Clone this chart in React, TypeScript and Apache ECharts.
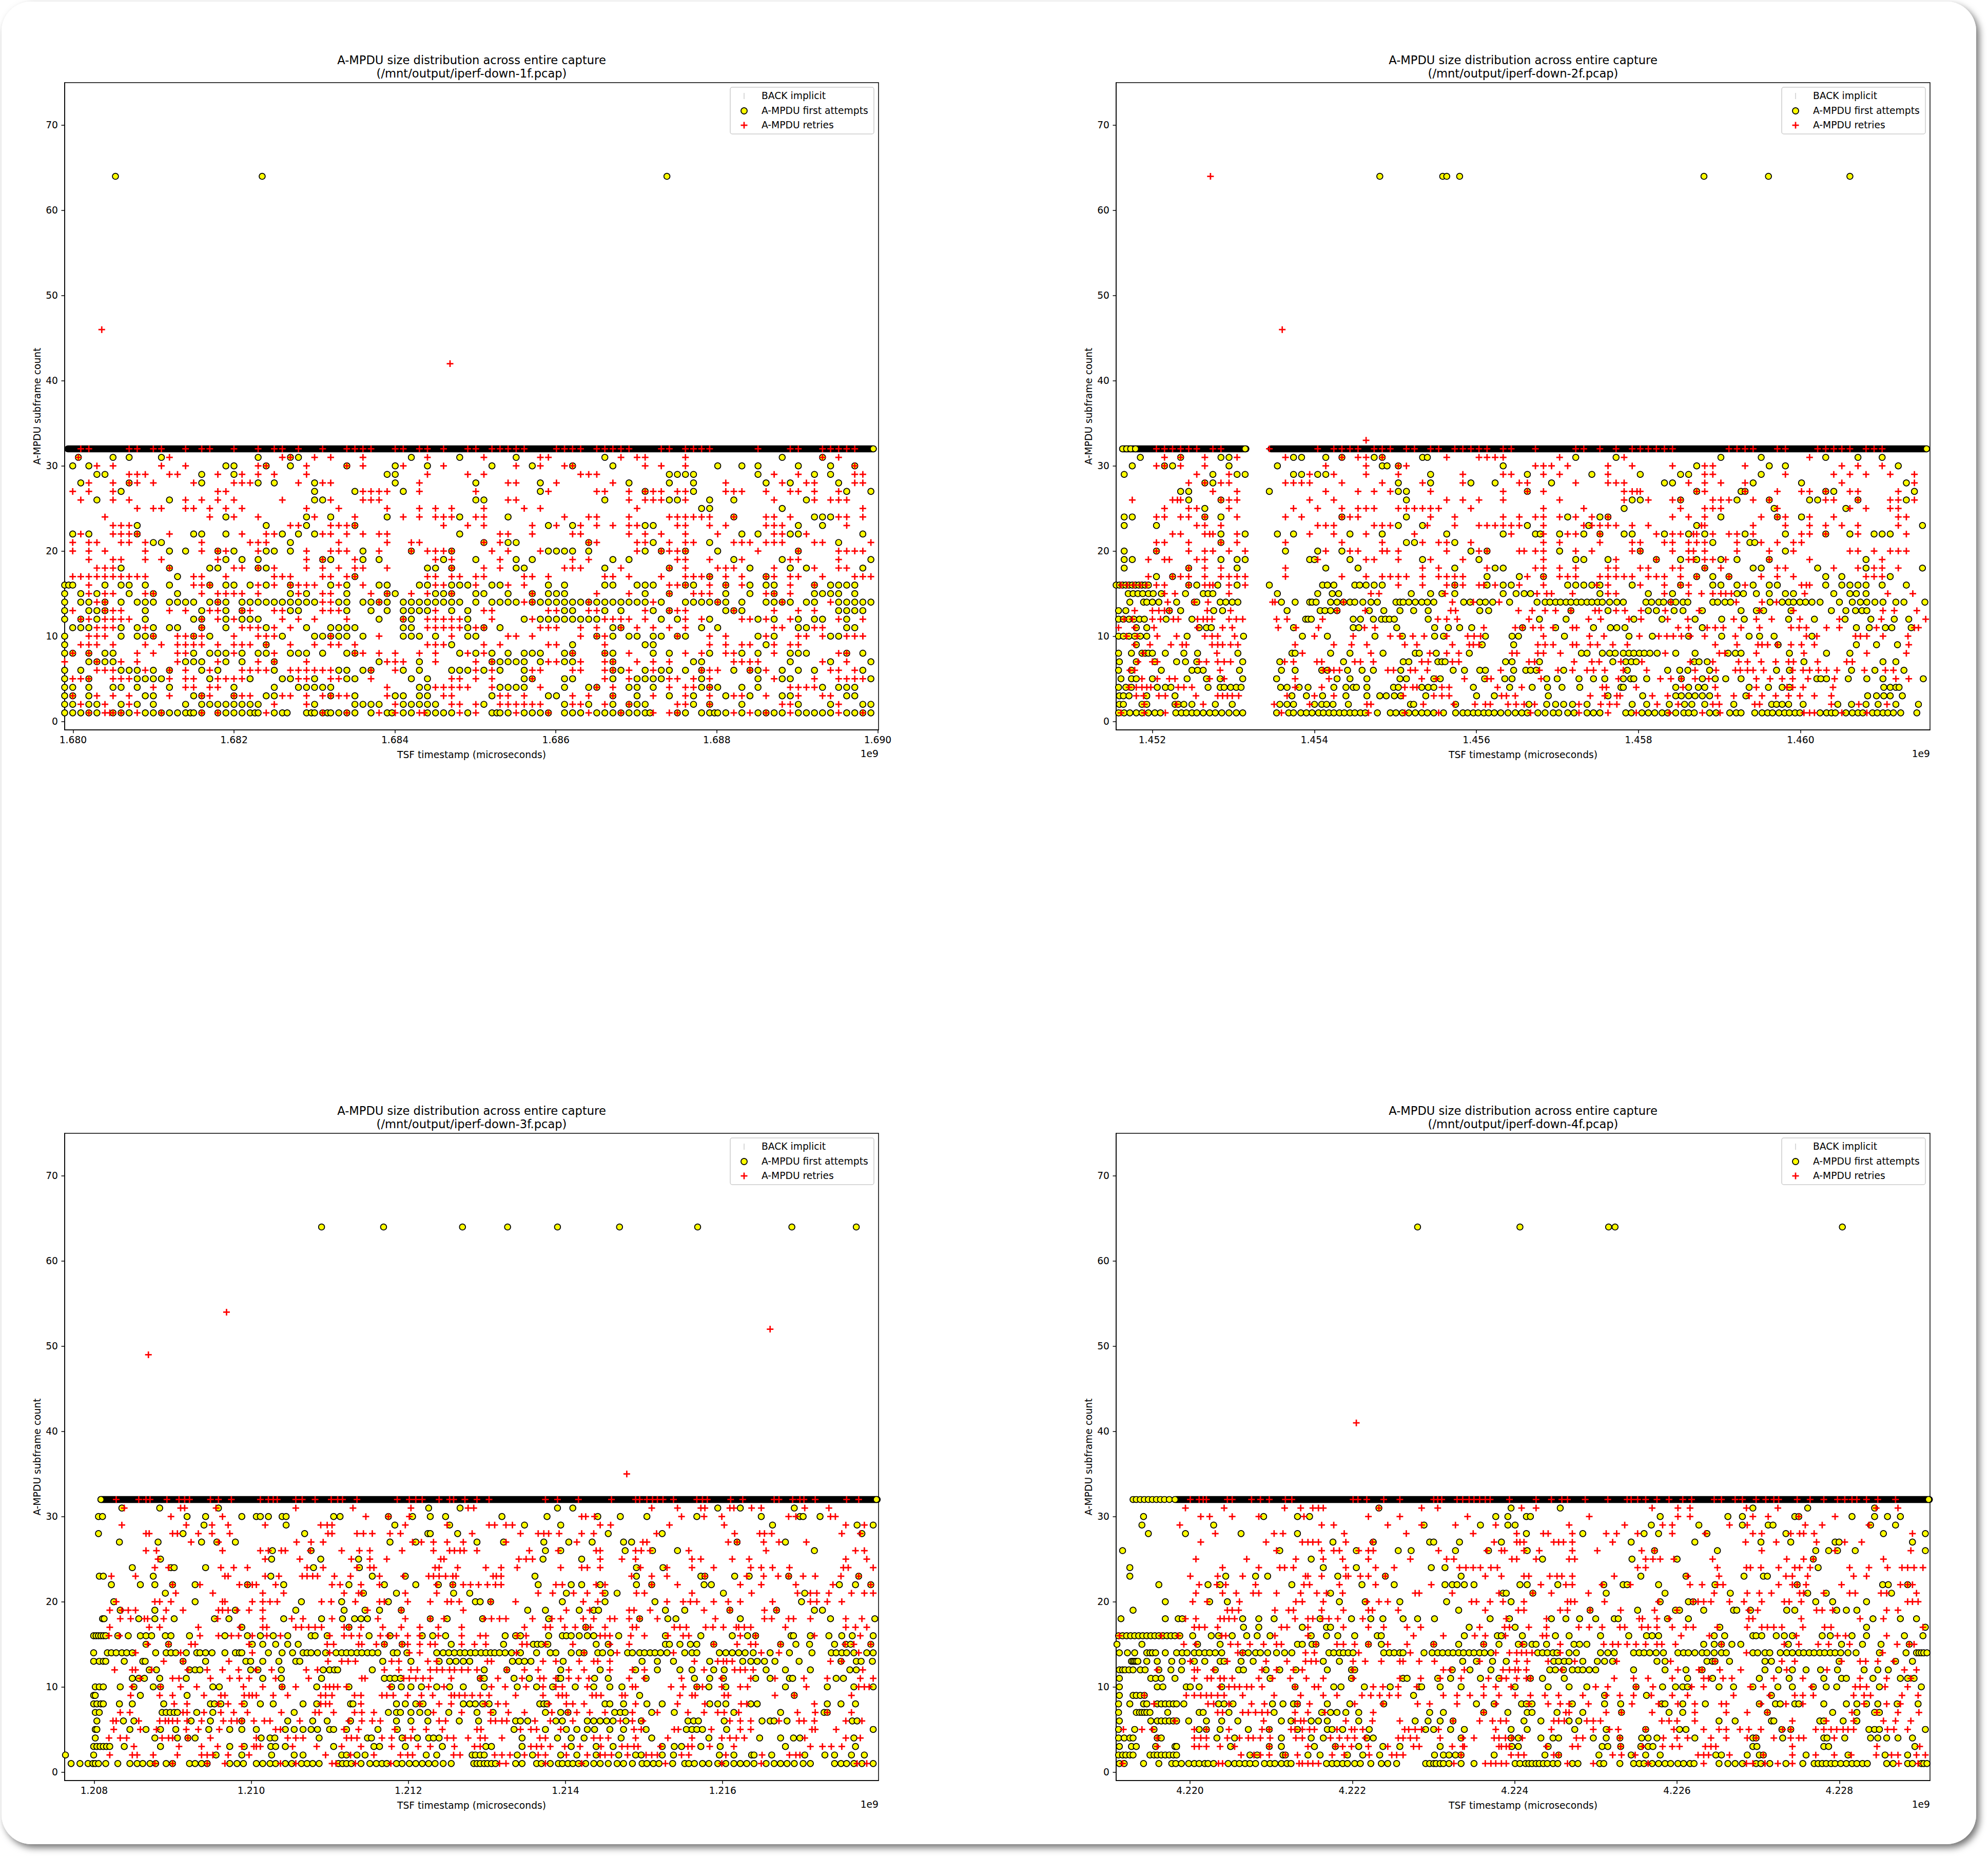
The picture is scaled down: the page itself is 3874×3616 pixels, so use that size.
import React, { useEffect, useRef } from "react";
import * as echarts from "echarts";

const W = 3874;
const H = 3616;
const FONT = "DejaVu Sans";

// ---- capture files (one per panel: TL, TR, BL, BR)
const FILES = [
  "/mnt/output/iperf-down-1f.pcap",
  "/mnt/output/iperf-down-2f.pcap",
  "/mnt/output/iperf-down-3f.pcap",
  "/mnt/output/iperf-down-4f.pcap",
];
// visible TSF window of each panel, in units of 1e6 microseconds
const X_START = [1679.895, 1451.554, 1207.625, 4219.09];
const X_END = [1690.01, 1461.597, 1217.984, 4229.117];
// seconds per reading step (positions below are read in ~1/100 of the panel width)
const STEP = [0.1002, 0.0995, 0.1025, 0.0993];
const X_TICKS = [
  [1680, 1682, 1684, 1686, 1688, 1690],
  [1452, 1454, 1456, 1458, 1460],
  [1208, 1210, 1212, 1214, 1216],
  [4220, 4222, 4224, 4226, 4228],
];
const Y_TICKS = [0, 10, 20, 30, 40, 50, 60, 70];

// ---- rows: index i -> subframe count i+1; positions
const TL_FIRST = [
  "0 1 2 3 4 6 7 8 10 11 12 13 14 15 15.6 16 17 19 20 21 22 23 23.6 24 26 27 27.6 30 30.6 31 32 32.6 33 34 35 36 38 40 40.6 42 43 45 46 47 48 50 53 53.6 54 55 57 58 59 60 62 63 64 66 67 68 69 70 71 72 72.6 76 77 79 80 80.6 81 82 84 86 87 88 89 91 92 93 94 95 97 98 99 100",
  "0 1 3 4 7 9 11 15 17 18 19 20 21 22 23 24 31 36 37 38 39 42 43 44 45 46 52 62 65 68 70 71 72 78 80 84 91 95 99 100",
  "0 1 3 10 11 16 17 21 25 26 33 36 41 42 44 45 53 60 61 68 71 75 78 82 85 89 90 97 98",
  "0 1 3 6 7 9 13 21 26 29 30 31 32 33 44 45 54 55 56 57 62 65 66 70 71 73 79 80 81 84 86 94 96 97 98",
  "0 3 9 10 11 12 18 23 27 28 31 35 36 43 45 57 58 62 63 68 71 72 73 74 79 86 89 90 100",
  "0 2 7 8 9 11 13 17 19 26 34 35 37 38 42 44 48 49 50 52 54 57 68 69 72 74 75 77 79 83 85 86 89 91 93 99",
  "3 4 5 6 15 16 17 20 22 26 39 44 53 54 55 56 57 59 62 63 68 78 79 90 95 100",
  "0 1 3 5 6 16 18 19 20 22 24 25 28 29 30 32 35 36 49 51 53 55 57 58 59 62 63 67 68 73 75 80 84 86 90 91 92 97 99",
  "0 25 48 63 72 73 87",
  "0 7 9 10 11 16 18 27 31 32 33 34 35 37 42 43 44 46 50 51 66 68 70 71 73 74 76 77 86 88 95 96",
  "1 2 3 7 9 11 13 14 17 20 25 30 33 34 35 36 42 43 50 52 54 68 69 79 81 91 92 97 98",
  "0 2 4 10 16 17 20 22 23 24 39 42 43 50 57 59 60 61 62 63 64 65 66 74 76 80 86 88 91 93 94 97",
  "0 3 4 5 10 17 20 22 28 29 35 38 40 42 43 44 45 48 50 62 63 67 69 73 75 82 83 84 96 97 98 99",
  "0 2 3 5 7 9 10 11 13 14 15 16 18 19 20 22 23 24 25 26 27 28 29 30 31 34 35 37 38 39 40 42 43 44 45 46 47 48 49 51 53 54 55 56 58 59 60 61 62 63 64 65 66 67 68 69 70 71 72 74 77 78 79 80 81 82 84 87 88 89 90 92 93 96 97 98 99 100",
  "0 2 4 8 11 14 28 30 35 40 41 46 47 48 51 52 55 58 60 61 62 72 75 82 85 88 93 94 95 96 98",
  "0 0.5 1 5 7 8 10 13 18 20 21 23 25 28 33 35 39 40 44 45 48 49 50 53 54 60 62 67 68 71 72 73 77 78 82 85 87 88 93 95 96 97 98",
  "14 36 80 87",
  "7 13 18 19 24 25 45 46 48 56 57 67 75 85 90 92 99",
  "20 22 24 32 33 37 39 47 51 56 58 68 70 83 89 100",
  "13 15 19 21 25 26 28 37 43 48 60 61 62 63 65 72 74 77 81 91",
  "11 12 28 52 55 56 65 73 80 96",
  "1 3 9 16 17 20 27 29 31 49 84 86 90 91 99",
  "9 25 30 36 60 63 72 73 91 94",
  "20 30 33 40 49 55 83 93 94 95",
  "79 80 89",
  "4 13 31 32 51 52 67 75 76 80 83 92",
  "7 31 36 42 59 72 78 97 100",
  "2 8 17 24 26 31 41 51 59 70 75 78 87 90 96",
  "4 5 17 21 40 41 75 76 77 78 86 93 95",
  "1 3 20 21 25 28 35 41 45 53 58 63 68 81 84 86 91 95 98",
  "1.7 6 8 12 24 28 29 43 49 56 67 89 94",
  "100.3",
];
const TL_RETRY = [
  "3 5 5.6 6 7 9 12 17 19 25 32 35 39 41 44 44.6 49 51 56 60 65 69 73 75 76 83 85 87 90 96 99",
  "2 5 8 26 30 41 48 49 51 54 55 56 57 58 59 63 64 67 70 76 77 80 89 90 96",
  "1 4 6 8 13 17 18 21 22 23 27 28 30 32 33 34 35 40 47 48 54 55 57 63 65 68 73 77 80 83 84 87 91 94 95",
  "11 15 16 18 19 40 46 47 48 49 50 53 59 66 68 75 77 78 80 90 91 92 93",
  "1 2 3 6 7 8 13 15 16 19 20 21 22 29 30 33 34 38 48 49 51 53 58 67 70 75 76 78 80 88 93 96 97 98 99",
  "4 5 6 10 13 15 18 22 23 24 25 28 29 30 31 32 33 38 41 51 53 58 59 63 64 67 68 70 73 79 80 81 85 87 95 96 98",
  "0 4 7 9 14 19 24 26 30 40 41 42 46 51 53 60 61 64 67 68 71 73 75 83 84 85 86 94 97",
  "1 3 9 11 14 15 21 26 36 37 39 41 44 46 50 52 63 67 70 77 79 82 83 88 96 97",
  "2 3 4 6 10 12 14 15 16 17 19 21 22 23 25 28 31 33 34 36 45 46 47 52 54 60 61 67 80 82 84 85 88 90 91",
  "3 4 5 11 14 15 16 17 21 24 25 26 33 39 48 55 56 58 64 66 67 76 80 82 87 91 92 94 97 98 99",
  "4 5 6 10 17 22 23 24 26 28 45 46 47 48 49 51 52 59 60 61 64 66 69 71 73 75 77 88 89 93 94",
  "2 3 5 6 7 8 17 19 21 27 29 31 35 42 45 46 47 48 49 53 58 67 68 69 70 72 77 79 84 85 87 90 96 99",
  "1 5 6 7 13 15 18 19 22 23 26 27 32 33 34 46 52 53 60 61 65 66 72 75 76 77 83 88 91 93",
  "4 5 19 32 33 39 57 58 65 73 81 89 95",
  "3 5 6 10 11 17 19 20 21 22 24 29 32 33 38 40 43 45 48 58 66 70 75 78 79 80 87 88 90",
  "3 16 17 18 24 26 28 29 30 31 34 37 46 47 51 55 57 75 76 77 80 82 84 90 93",
  "1 2 3 4 5 6 7 8 9 10 16 17 20 26 27 28 32 33 35 36 45 46 48 49 51 52 57 58 60 67 68 70 74 77 78 79 80 82 84 87 88 90 91 94 98 99 100",
  "4 5 6 13 21 22 24 26 30 32 34 36 37 40 48 52 54 62 63 64 69 75 77 81 82 83 88 93 96 97",
  "3 6 7 10 12 19 30 32 36 46 48 54 63 65 76 77 80 84 90 91 96",
  "1 3 5 10 17 19 20 24 30 33 34 35 39 43 45 46 47 48 53 55 59 71 74 75 76 77 86 91 96 97 98 99",
  "1 3 4 7 8 10 17 23 24 25 34 40 43 44 52 54 65 66 71 72 75 77 78 83 84 85 87 88 89 93 94 100",
  "2 6 7 8 9 13 22 25 26 32 33 35 37 39 40 54 55 58 63 64 70 72 74 77 81 88 89 92",
  "6 7 8 28 29 33 34 35 36 47 50 52 58 61 64 66 68 70 71 76 77 80 82 87 88 89 97",
  "5 18 21 24 31 36 42 44 46 47 48 51 52 62 65 66 70 75 76 77 78 79 80 83 87 88 90 96 97 99",
  "9 11 12 15 16 18 20 22 30 34 40 44 46 48 52 57 59 71 99",
  "2 6 8 15 17 19 21 27 33 37 38 39 55 56 70 72 73 74 77 88 93 95 96 97",
  "1 3 6 19 20 37 38 39 40 44 51 60 66 67 70 72 73 74 76 77 82 83 84 87 90 91 93 96",
  "3 6 8 9 11 16 21 22 23 29 32 33 44 55 56 61 68 82 89 92 93 98 99",
  "8 9 10 13 14 19 22 24 26 30 45 50 52 64 65 66 88 91 98 99",
  "4 6 12 15 24 25 30 35 37 42 47 56 59 62 63 72 74 77 98",
  "1.7 13 27 28 31 33 37 45 52 59 60 69 71 72 77 94 96",
  "2 3 8 9 11 12 15 17 18 21 24 26 27 29 32 35 36 37 38 41 42 44 45 47 50 51 53 54 55 56 57 61 62 63 64 66 67 68 69 70 74 75 77 78 79 80 86 90 91 94 95 96 97 98",
];
const TL_FIRST_HIGH = [[6.3, 64], [24.5, 64], [74.7, 64]];
const TL_RETRY_HIGH = [[4.6, 46], [47.8, 42]];
const TL_BAND = [[0.4, 100.3]];

const TR_FIRST = [
  "0.3 1 1.7 2.5 3.2 4 4.8 5.5 7.4 8.1 8.7 9.4 10 10.8 11.6 12.3 13.1 14 14.9 15.7 19.9 21.4 22 22.9 23.6 24.3 25.1 25.7 26.4 27 27.7 28.3 29 29.6 30.3 30.9 32.4 34 34.7 35.5 36.3 37.1 37.9 38.6 39.4 40.6 42.1 43 43.6 44.3 44.9 45.6 46.2 46.9 47.7 48.6 49.5 50.3 51 52.3 53.2 54.2 54.9 56 56.8 58.4 59.2 60 63.2 63.9 65.2 66 66.8 67.7 68.4 69.4 70.4 71 71.7 73.6 74.4 76.1 76.9 77.5 79.2 80.1 80.8 81.4 82.2 82.9 83.5 84.2 84.8 87.3 88.1 88.7 89.2 90.5 91.3 92 92.6 93.8 94.4 95.1 95.7 96.4 97.3 99.3",
  "0.4 0.9 3.2 3.8 7.3 7.7 8.4 9.4 12.3 14.4 20.3 21.2 22 24.6 25.5 26.1 26.9 28.8 36.5 36.9 42.1 51.2 53.4 54.5 55.5 56.6 58.4 64 65.8 68.6 70.5 71.4 73 76.6 81.3 81.9 82.6 83.4 85.2 89.5 91.2 93 94.5 96.7 99.5",
  "0.4 0.9 1.6 3.8 7.3 21.8 23.6 25.6 28.5 31.1 32.7 33.5 34.5 35.3 38.4 44.7 46.9 53.6 61 65.3 69.4 70.1 71 71.8 72.7 73.6 78.1 93.2 94.3 95.2 96 97.5",
  "0.3 1.2 1.9 5.1 6.1 6.8 11.4 12.9 13.4 14.2 14.9 15.5 20.4 21.2 22.7 23.8 27 28.5 29.4 29.8 31.1 34.4 35 37.9 38.7 39.4 44.3 48.8 51.6 53.5 55.3 57.5 62.6 62.9 69.4 71 72.2 73 78.5 80.9 82.6 83.5 95.2 96 96.7 97.1",
  "0.6 1.9 2.5 4.5 8.8 11.2 12.9 15.7 19.9 27.4 29 31.1 35.2 36 39.4 40.2 45.7 48.2 49.1 53.4 54.7 57.4 59.2 60.6 62.9 63.8 64.2 65.8 70.1 72.7 74.3 75.6 77.5 86.9 87.4 88.1 90.8 93.1 95.1 100.1",
  "0.3 1.9 5.6 9.4 10.1 10.8 15.3 20.5 22.2 25.5 26.2 28.7 30.5 31.9 35.3 41.8 43.2 45.1 45.8 49.3 50.8 51.4 52.1 55.5 63.4 68.4 69.9 70.9 73.6 81.9 83.5 91.2 94.1 97.7",
  "0.4 2.5 4.8 7.5 8.6 10 15.7 20.3 28.2 35.6 36.3 39.9 40.4 40.8 48.3 49.1 52.5 61.6 63.2 63.9 64.5 71.7 72.3 73.3 85.3 95.1 96.7",
  "0.3 1.9 3.2 3.6 4 4.5 6.1 8.4 10.1 15.1 21.8 22.2 26.6 29 33.1 37.1 37.6 39.7 43.8 57.7 58.4 60.3 61.2 61.9 62.9 63.6 64.2 64.9 65.5 66.2 67.1 69.4 71.8 75.9 76.8 77.5 83.5 88.1 91",
  "2.5 45.4 49.3 82.1 91.8 94.3 96.9",
  "0.3 0.9 1.6 2.3 3 3.8 8.8 15.8 23.1 26.2 32.1 35.5 39.5 40.6 45.8 49.1 49.9 55.6 63.6 66.5 71 75.1 78.5 79.8 81.6 86.3",
  "2.5 3.8 10.3 11.2 11.8 22 29.4 30.1 34.8 39.5 41.2 42.6 44.1 50.4 54.5 59.2 61.3 62.1 63.1 72.7 91.8 93.4 95.4 96.2 98.6",
  "0.3 0.9 1.6 2.2 2.9 3.5 6.2 9.4 23.5 23.8 24.2 29.4 30.3 31.9 32.9 33.4 33.9 34.5 38.7 52.5 55.8 64.2 67.7 71.8 75.1 77.9 83.4 86.6 90.4 93.6 96.5 98.3",
  "0.3 1.2 6.6 8 12.1 13.2 21.2 25.3 25.9 26.6 27.4 31.4 33.2 35.2 36.9 38.7 45.1 46.2 56.4 61 66 67 69.2 70.3 72.7 77.5 79.4 80.3 83.7 88.7 90.5 91.7 92.5 93.1",
  "1.7 3.4 3.8 4.5 5.3 7.5 9.7 10 12.9 13.6 14.4 15.1 20.5 22.2 24 24.3 24.8 26.6 27.4 28.2 29 29.6 30.6 31.6 32.4 34.7 35.2 35.6 36.3 37.1 37.9 38.6 39.4 43.1 43.9 45.1 45.8 46.7 48.8 52.2 53.2 53.8 54.5 55.1 55.8 56.4 57.1 57.7 58.4 59 59.7 60.3 61.2 62.1 62.9 65.7 66.4 67.3 67.9 68.8 69.4 70.3 70.9 74 74.6 75.5 76.2 81.1 82.6 83.4 84 84.8 85.5 86.3 87.3 89.7 91.3 92.3 93.1 94.1 95.1 96.7 97.7 100.3",
  "1.5 2.1 2.7 3.3 4 4.6 5.6 8.6 10.8 11.4 12 20 25 26.8 27.6 36.6 39 40.4 42 48 49.6 50.6 51.4 60 66 69 77 77.8 79.4 81 83 84 89 91 91.8 93",
  "0 0.4 0.8 1.2 1.6 2 2.4 2.8 3.2 3.6 4 9 10 12.6 15 19 25.6 26.2 27 29.6 30.2 31 32 33 42 46 48 49 56 57 58 59 60 64 70 74 75 77 79 81 82 88 90 91 92 93 95 98",
  "5 7 46 50 53 72 74 76 88 90 96",
  "1 9 15 26 30 42 47 48 73 79 80 87 93 100",
  "1 2 13 15 16 24 24.6 29 38 45 57 58 61 67 70 72 75 77 81 93",
  "1 5 21 25 28 44 46 55 65 83",
  "13 36 37 42 74 78.6 79.2",
  "13 16 20 22 29 33 41 48 52 52.6 55 58 60 63 64 68 71 73 78 83 88 91 94 95 96",
  "1 5 35 38 51 58.6 72 100",
  "1 2 11 13 28 36 56 60 61 75 82 85",
  "11 63 81.6 90.5",
  "9 13 36 64 65 70 77 81 86 87 92 98",
  "8 9 19 35 36 51 72 77.5 78 88 89 99",
  "11 12 35 39 44 47 54 68 69 79 85 98",
  "1 12 15 16 22 23 25 26 39 51 59 65 70 71 80",
  "2 6 7 14 20 33 33.6 35 48 72 81 83 97",
  "3 8 13 14 22 23 26 28 32 33 38 38.6 57 62 75 80 88 92 95",
  "0.8 1.3 1.8 2.4 16 100.5",
];
const TR_RETRY = [
  "0.6 3.5 6.1 20.5 31.3 35.8 40 51.4 57.4 61 64.5 68.6 72.7 74.9 85.3 86 86.6 90 93.1",
  "3.5 7.5 10.8 19.6 24 31.1 31.6 38.1 41.9 44.5 45.8 46.4 48.6 49.6 50.6 51.9 57.4 60.1 61.2 62.1 67.1 69.7 74 74.8 79.2 79.8 88.7 92.1 95.6",
  "2.5 3.4 5.3 6.1 9.9 12.6 13.2 13.8 14.4 15.2 21.2 24.6 27 35.6 39.4 40.4 41.3 47.8 48.4 49.5 58.8 60.6 62.1 62.5 66.5 68.4 74.6 76.6 78.5 80.1 81.8 83.4 84.8 86.6 88.7",
  "1.6 2.5 3.2 3.8 4.3 7.7 8.4 9.4 22.2 25.5 35.8 36.8 37.3 40.4 41.3 47.3 50.3 60.3 60.8 64.5 70.3 74.3 79.4 83.2 83.9 85.2 88.9",
  "3.2 5.1 6.6 7.3 11.6 13.4 22.2 26.4 37.9 39.7 43.2 46 46.5 52.7 62.3 67.5 68.8 70.1 71.8 73.5 79.4 81.1 82.6 83.9 85.8 89.1 96.7 98.3",
  "1.7 2.3 12.9 25.7 26.4 27 27.7 33.7 34.4 36.5 37.1 38.6 47.7 52.5 54.8 56.6 58.4 59.2 60.6 62.9 65.8 71.8 74.4 76.8 77.4 78.3 79 80.3 83.9 85.2 86 87.1 88.1 89.4 92.8 95.4 96.4",
  "2.7 4.5 5.1 10.3 11.2 12.6 13.4 14.2 20.9 22 24.9 25.5 29.6 30.3 31.9 37.9 38.7 41.7 42.5 51.2 51.9 56.8 59 59.9 62.6 65.2 71.2 74 77.2 78.3 80 81.8 83.4 84 87 90.6 91.3",
  "3.4 12.5 23.1 31.6 38.9 41 42.5 49.1 49.7 52.3 53 55.1 68.1 74.8 75.5 79.4 85.3 93.1 98",
  "2.3 4.2 6.8 8.2 8.7 11.9 12.6 13.2 14.2 15.1 22.2 27 29.2 31.1 35.8 37.3 41.7 43.8 44.3 45 52.3 53.2 54.2 56.6 57.1 58.8 59.7 61.6 63.4 74.3 77 79.6 80.1 80.8 82 83.7 85 86.6 98.3",
  "1.3 2.6 5.1 7.5 11 11.9 12.6 14.7 24.6 29.4 34 35.2 36.8 38.2 41 43.6 44.4 45.2 53 58.7 60.5 64.9 67.3 68.3 69.1 70.1 71.2 73 76.8 85.6 86.9 91.7 92.3 93.1 95.1 98.2",
  "0.3 2.3 4.7 10.1 13.2 14.4 20.1 22.3 25.1 30.8 32.1 45.6 49.5 50.4 51.7 52.7 54.2 56.6 57.1 69.7 71 73.3 74.3 75.3 77.5 79.8 83.7 84.7 85.6 88.1 89.7 94.3 99 99.5",
  "1 2 4.5 5.5 7.1 7.7 10.1 10.8 11.3 11.9 14 14.9 15.7 19.9 21.2 25.6 39.9 41 42.3 51.2 58.6 60.1 63.6 65.1 68.4 70.9 76.6 79.4 81.3 84.8 89.7 94.9 100.4",
  "2.3 4.5 5.3 6 6.6 11.3 14.2 27.4 30.9 41.5 42.1 49.9 51.6 53.2 54.5 56.4 59.4 59.9 62 63.1 65.1 68.1 72.3 79.8 84 95.1 96.5 99.3",
  "6.4 9.7 11.4 19.4 19.7 28.2 41.7 44.3 47.5 68.8 76.9 80.1 81.9",
  "6 7.3 14 31.6 32.6 40.8 52.2 53.4 54 56.6 61 62 68 71 72.6 74 75 75.6 76.3 85.4 95.7 98.8",
  "0.6 1.4 2.2 3 3.8 5 6 9 11 11.6 12 14 16 35 38 41 42 43 45 45.6 47 50 53 59.6 61 65 68 70 71 78 85 85.6 86",
  "4 7 8 9 11 13 14 15 16 21 28 31 33 34 35 36 38 40 41 42 43 51 53 55 56 57 60 61 62 63 64 66 67 68 70 72 76 80 82 84 93 94 95",
  "9 11 13 21 38 40 46 52 53 55 57 61 62 65 66 69 70 73 75 82 83 89 92 94 95 97",
  "4 6 6.6 10 11 25 31 32 35 39 43 53 62 67 71 71.6 73 74 75.6 81 86 95",
  "5 9 11 12 14 16 26 29 30 33 33.6 35 41 45 46 50 50.6 52 53 57 59 64 65 69 71 71.6 73 77 81 84 91 92 94 96 97 98",
  "5 6 9 13 15 21 28 33 38 40 41 44 53 55 60 64 65 68 69 71 72 73 77 80 82 84 85",
  "7 8 11 11.6 12 15 24 27 31 37 49 53 56 57 60 67 69 70 71.6 72 74 76 77 79 85 86 88 92 98",
  "10 11 13 25 26 27 32 33 34 38.6 42 45 46 47 48 49 50 53 58 59 60 61 62 64 66 72.6 73 79 83 86 88 90 92 97",
  "5 6 8 9 11 15 21 23 28 29 30 39 42 48 50 52 53 55 57 59 61 69 71 73 80 82 83 86 89 97 98",
  "6 9 10 14 22 25 28 30 31 32 35 36 37 38 39 40 44 53 58 70 73 74 75 82 91 93 96 97",
  "2 7 7.6 8 13 14 15 24 27 41 43 45 48 55 63 66 69 70 74 75 76 79 81 88 89 92 96 97 99",
  "12 15 26 30 32 34 39 48 51 53 63 64 64.6 65 72 73 78 82 85 86 88 91 92 97",
  "9 11 13 14 21 22 23 24 28 33 38 43 50 51 57 61 62 63 71 73 75 78 90 99",
  "10 14 24 27 31 35 43 48 49 53 55 61 73 74 83 89 91 93 96 99",
  "5 6 8 11 26 31 35 36 52 53 54 56 61 64 69 73 74 78 90 92 95",
  "6 8 11 15 21 28 30 31 33 41 45 46 47 48 55 63 86",
  "5 6 7 8 9 10 12 13 19 25 27 28 29 30 32 33 34 36 37 39 40 42 43 44 45 46 48 49 52 57 58 60 62 64 65 66 67 68 69 76 77 78 79 82 83 87 88 89 90 91 93 94 95",
];
const TR_FIRST_HIGH = [[32.7, 64], [40.5, 64], [41, 64], [42.6, 64], [72.9, 64], [80.9, 64], [91, 64]];
const TR_RETRY_HIGH = [[11.7, 64], [20.6, 46], [31, 33]];
const TR_BAND = [[0.8, 16.1], [19.2, 100.5]];

const BL_FIRST = [
  "0.8 1.9 2.9 3.5 3.8 4.2 5.1 6.6 8.1 9 9.7 10.6 11.3 12.6 13.4 15.5 16.2 17 17.7 20.5 21.4 22.2 23.8 24.6 25.5 26.2 27.4 28.2 29.4 30.1 30.8 31.6 34 34.5 35 35.6 36.8 37.9 38.7 39.4 40 41.2 41.9 42.8 43.6 44.4 45.2 46 47 48 50.8 51.2 51.6 52.1 52.5 53 53.5 56 56.8 58.6 59.2 60.3 61.3 61.8 62.5 63.1 63.8 64.7 65.7 66.5 67.5 68.6 69.4 70.5 71.7 72.3 73.1 73.8 75.5 77 77.5 78.2 79.2 80 81.1 82.1 83.1 83.9 84.7 85.6 87.1 88.1 88.9 89.7 90.6 91.7 92.6 95.6 96.4 97.1 98 99 100.4",
  "0.1 3.6 18.8 22 25.7 28.5 29.6 34.4 35 36.3 37.3 44.9 46.2 50.6 51 51.6 52.1 56.2 58.1 61.6 63.6 66 68.8 70.9 71.6 74.2 75.6 81.3 83.1 85.3 85.6 87.8 91.9 94.4 95.6 97.7 99.3",
  "3.6 4 4.4 4.8 5.2 5.6 7.4 11.9 20.5 22.3 25.6 26.2 27.4 33.4 38.4 39.1 42.3 46.9 52.3 53 56.8 62.9 66 68.1 74.2 75.7 76.6 79 81.4 89.5 98.2",
  "3.8 11.2 14 15.3 16.2 24.4 25.5 26.1 31.6 37.6 38.1 41.9 43.8 45.2 45.8 46.5 56.8 61.2 62.9 64.5 69.1 72.9 80 86.3 88.9 90.5 91.3 98",
  "3.8 4 8.1 10.1 11.9 13.8 17.9 20.5 22 23.8 27.4 28.5 29.6 30.6 31.4 32.9 33.4 35 38.9 41.3 55.8 59.7 62.3 63.6 64.9 65.8 67.7 69.4 72.2 77.2 77.9 78.5 79.2 82.2 100.4",
  "4 7.3 8.6 15.7 18.1 22 27.7 30.8 32.6 35.5 41.2 43 45.1 49 51.4 56 56.6 57.5 61 61.8 64.9 65.7 66.5 67.3 68.1 69.7 71.6 77.4 78.1 78.7 81.9 86.6 87.6 88.1 89.7 97.8 98.4",
  "3.8 4.3 12.1 12.6 13.1 13.6 14 16.4 18.4 28.5 40.2 41.2 41.7 43 44.1 45.1 47.7 51.2 53.2 59.7 61.6 62.5 68.3 69 69.6 72.9 75.7 83.1 88.9 94.3 94.7",
  "3.6 4 4.5 4.8 6.8 8.4 12.3 18.1 18.6 19.4 22.3 24.3 25.9 29.6 31.3 35.5 35.8 41.2 42.3 43.6 44.5 49.5 50.3 51 51.9 52.7 59 59.5 59.9 67.1 67.7 69.4 72.3 74.2 80.1 81.1 82.1 85.2 86 94.7 96.4 98.2",
  "3.6 3.8 9.4 15.2 71.4 90.6",
  "3.8 4.3 4.8 6.9 8.6 11 11.9 18.4 19.2 27 31.3 35.3 40.6 41.8 43 44.3 46.2 47.8 49.5 52.1 56.2 58.6 60.6 63.4 65.7 67.7 69.2 78.5 80 82.1 89.5 94.7 98 100.4",
  "8.4 9.2 9.9 11.8 15.1 24.6 26.9 31.9 39.7 40.4 41 41.7 51.6 52.1 55.8 57.7 61.3 61.6 65.8 67.5 72.2 78.2 80.1 81.8 85.8 87.6 90 90.4 95.8 96.7",
  "10.5 11.4 15.5 16.2 16.8 23.1 24 26.9 32.1 32.9 33.5 33.9 38.2 52.1 54.9 61.6 66.5 70.9 73.6 76.4 77.9 80.6 81.9 87.1 89.5 92.6 97.5 98.3",
  "3.6 4.3 4.8 5.1 7.4 9.7 10 14.7 17.5 22.5 23.1 24.6 26.6 28.7 29.2 39.5 43 46.5 47.8 48.6 49.5 50.3 55.6 56.4 57.1 57.9 61.9 71.7 73.6 75.6 80.1 84.2 85.2 86 86.9 88.2 91.2 96.4 98.3 98.9 100.3",
  "3.6 5.3 5.8 6.4 7.1 7.7 8.4 11.3 12.6 13.2 13.8 15.1 16.4 16.8 17.5 18.3 19.9 21.2 21.7 22 25.3 27 28.3 29.6 30.1 30.6 31.4 32.4 33.7 34.4 35 35.6 36.3 36.9 37.6 38.2 38.9 40.8 41.3 42.5 46.2 47 47.7 48.4 49.1 49.7 50.4 51 51.7 52.3 52.9 53.4 54 54.7 55.5 56.6 58.6 60.3 61 62.9 63.9 64.5 66.2 66.8 67.8 69.9 70.5 71.4 72 72.7 73.3 74 74.8 77 77.9 78.5 81.3 82.1 82.9 83.7 84.5 85.5 87.6 90 92.8 95.2 95.8 96.5 97.1 98 99.6 100.4",
  "10.1 12.9 23.3 24.6 26.2 27.7 29 39.7 41.9 48 54.5 58.2 58.7 59.2 60 66 67.5 74.6 75.1 76.4 77.7 78.5 80.6 88.9 90.8 92.5 95.6 97 97.6 100.1",
  "3.6 3.9 4.2 4.5 4.8 5.1 6.6 7.9 9.4 10.1 10.8 12.5 13.2 15.5 19.9 22.7 24.3 25.9 27.7 30.6 31.1 32.6 37.8 40.4 44.4 45.7 47.3 54.7 56 56.6 60.1 61.8 62.3 62.9 63.9 64.9 65.7 68.8 74.6 79 82.9 84.8 85.8 90.2 90.5 92.6 94.9 96.5 97.8 100.4",
  "22 35.3 64.7",
  "4.7 4.9 9.2 11.2 13.6 18.6 20.4 27.2 31.9 34.5 36 36.8 37.6 45.4 47.5 51.9 60.1 71.4 74.9 75.9 83.9 95.1 100.6",
  "6.9 11.2 21.2 28.7 34.7 37.3 39.1 41.8 57.5 59.7 63.9 65.7 66.3 74.6 77 82.6 88.4 93.1 94.1",
  "6.1 16.2 29.4 34.4 40.2 51 51.6 52.9 61.8 67.1 73.3 91.5",
  "12.5 37.1 41.2 48.3 50.3 62.3 67.1 68.6 81.8 91.9",
  "5.8 9.4 11.2 13.4 16.2 22.7 27.2 35.3 39.7 43.6 46.4 48.2 58.8 62.9 64.2 66.5 71 72.9 79.4 80.3 96.2 98.2 100.1",
  "4.3 4.8 11 25.6 38.2 42.3 58.4 71 79 79.5 83.2 85 89.9 98.6",
  "8.4 13.2 13.6 17.5 30.9 36.6 71 74.3",
  "11.9 25.7 31.8 36.5 59.4 64.2",
  "25.8 30.6 59.7 61.6 69.6 73 76.1 93.1",
  "6.8 11.6 17 18.9 21.2 40.4 43.6 51.2 54.5 59.5 62.6 65.5 69.4 70.4 83.5 89.5",
  "4.2 14.7 29.8 45.1 45.4 48.8 67.5 74.2 99",
  "17.3 27.5 41 47.8 57.1 61.6 87.9 98.4 100.4",
  "4.2 4.7 15.2 17.5 22 23.8 24.3 25.3 27 27.5 33.4 34.2 40.2 43.2 45.4 47.3 54.3 59.9 66.2 69 72.3 78.5 86.5 91.3 91.7 93.8",
  "7.1 11.8 19.1 45.2 49.1 61.2 63.1 81.1 83.9 90.6",
  "4.5 100.8",
];
const BL_RETRY = [
  "11.2 13.4 17.7 19.9 26.8 28.7 33.2 33.7 36.1 40.5 54 54.8 59.7 64.2 74.6 81.6 86.5 98.4 99.6",
  "5.6 8.4 9 11 14 17 17.7 18.4 20.3 22.9 32.4 35.5 38.4 41.7 42.6 43.2 48.3 49.1 53.4 54.3 55.3 57.1 58.8 59.7 62.3 64.9 66.5 67.1 67.9 69.9 72.2 72.9 73.6 76.6 77.5 82.1 86.6 90 90.8 91.3",
  "8.6 14.2 17 19 22 23.5 23.8 24.3 28.3 31.3 34.4 36.8 40.6 43.9 45.4 48.4 50.9 51.6 57.9 58.6 59.2 60.3 62.1 64 66.6 69.2 69.9 70.7 71.2 74 77.4 77.9 80.1 83.1 92.6 94.1 95.2 96.5",
  "5.5 6.9 7.7 12.1 12.9 13.4 15.3 18.1 23.8 27.7 28.7 29.6 35 35.6 36.3 39.4 40.6 42.3 43 47.5 48.3 50.1 51.6 52.2 54.3 59 59.7 65.7 66.5 67.5 70.9 74.9 77.9 81.6 82.6 83.4 84.4 91.9 97 98.8",
  "6.1 9.4 11.4 15.1 16.6 19.2 26.2 26.8 34.7 36.5 41 43.2 44.9 46.9 51.2 51.7 56.6 57.9 58.6 61.6 70.7 71.6 75.7 76.2 80.3 83.9 85.2 92.8 93.2 95.8",
  "6 6.4 9.2 11.8 12.5 12.9 13.4 14 15.2 17 19.7 20.7 21.4 22 23.5 24.8 25.5 29.2 35.3 36.9 38.2 39.2 46.5 47.3 52.9 53.5 54.3 54.9 58.4 60.3 63.1 69 70.5 71.8 82.6 83.9 85.2 88.7 91.2 91.8 93.1 97 99",
  "6.9 8.1 14.7 15.2 17.3 19.4 21 22.7 26.9 31.1 31.6 33.4 36 36.9 38.4 45.8 49.3 52.9 55.1 57.1 60.5 62.5 63.6 65.2 67.1 70.5 73.6 77.4 79.4 81.1 81.9 83.7 91 93.2 94.7 97.7",
  "13.6 15.2 19.1 20.3 22 31.8 32.4 32.9 36.8 44.1 46.5 48 52.2 53.8 54.8 60.1 62.3 63.1 64.5 70.9 76.1 79.5 84 84.7 93.1",
  "8.2 11.8 13.4 17.3 19.4 19.9 22.3 22.9 23.3 23.8 25.9 27.7 31.8 32.4 33.2 36 36.8 39.4 40 40.8 42.6 44.3 45.7 48 48.4 49 49.7 50.6 51.6 52.7 56 59.4 61.3 61.8 62.3 65.5 66 66.6 69.2 69.6 76.4 77.9 78.3 81.9 82.4 88.2 90.6 97.7",
  "8.4 11.9 14.4 16.4 22.2 24.6 27 28.7 32.4 32.9 33.4 33.9 35 40.4 45.2 47.1 53 54.7 57.3 59.4 61 61.8 64.9 70.5 70.9 75.3 76.8 78.5 79.2 81.6 83.9 84.8 92.1 98.6 99.3 99.9",
  "9.4 13.4 14.2 18.1 20.5 21.7 22.9 26.2 30.3 36.9 37.3 42.1 42.8 43.6 44.5 45.4 48 51.6 53.8 56.8 59 59.5 61 62.6 63.8 65.1 70.1 72 76.6 81.6 85.2 88.2 91.8 94.7 98.8 100.4",
  "6.2 8.4 8.8 10.8 15.3 17.7 19.6 21.6 23.8 25.7 30 31.4 39.7 41.5 43 43.8 45.4 46.2 46.9 47.8 48.4 49.3 50.1 51.2 54.9 57.1 58.8 62.6 64.5 67.7 70.5 72 79.4 83.2 83.9 84.5 85.5 99.1",
  "12.3 14.7 20.4 32.7 34.4 35.2 36.1 40.6 41.5 45.1 46.2 52.5 53 59.4 61 63.9 65.7 66.2 67.7 78.2 81.1 81.8 82.2 82.9 95.1 96.5",
  "8.8 14.4 23.3 32.9 42.8 44.1 56.1 64.5 68.6 75.6 86.5 88.7 98.6",
  "10.3 12.9 15.7 16.2 22.9 32.6 33.4 36.5 36.9 38.7 39.7 41.9 42.6 44.1 45.4 46 49.3 50.9 52.3 56.8 57.4 59.7 63.1 67.7 70.1 80.6 83.5 85.2 85.8 88.9 96.9 98 100.1",
  "5.5 6.8 16.8 19.1 20.7 21.6 23.3 25.1 26.8 32.9 34.7 35.6 36.6 39.2 40.2 41.2 42.6 44.1 46.4 49.3 51.6 52.3 56.2 57.3 66.5 67.1 67.7 70.3 72 74.9 76.8 77.5 83.9 85.8 93.1 98.8",
  "5.6 10.5 11.8 16.6 21.8 24.6 25.1 28.7 29.4 30.3 31.1 31.9 34.7 35.3 36.8 39.5 41.8 44.1 46.4 49.3 57.1 59.7 60.3 62.1 63.4 64.7 65.3 67.1 70.5 71 75.7 76.4 77.2 79.6 80.5 81.8 83.4 83.7 84.4 85.2 89.5 97 98.2 99.6",
  "6.9 8.2 9.9 10.3 12.3 19 24.6 28.2 29.6 33.2 38.9 42.3 45.4 47.1 52.1 53 54 54.8 58.1 60.5 61.6 64.4 65.7 67.7 68.3 70.1 71.4 73.6 80.8 86.9 87.8 89.9 90.5 92.6 97 99",
  "5.6 7.1 7.9 8.8 12.6 14.7 19.1 19.6 20.3 21.4 22.9 24.6 37.6 41.8 49.5 62.3 65.2 70.1 70.7 72.7 79.4 82.6 86.9 88.4",
  "6.4 11.2 11.8 13.2 19.6 19.9 23.3 24.6 25.5 26.4 31.9 33.1 36.1 39.1 39.7 42.6 45.4 47.5 48 49 52.9 56 64.4 66.2 74.8 76.8 77.7 78.5 80.6 82.4 83.9 87.9 92.6 93.4 94.7 96.5",
  "13.8 18.4 24.6 27.2 34.7 36.5 36.9 42.3 46.2 58.8 60.6 63.2 64.9 66.8 71 72 77.9 85.3 91 92.6 93.4 94.9 97.7 99.3 100.4",
  "13.4 16.8 21.7 22.7 23.3 23.8 26.2 33.2 34.2 36.8 39.1 46.2 48.2 49.5 50.4 51.4 52.5 53.5 54.2 61 61.8 66 67.1 72.9 76.1 83.9 86.5 90.8 95.4 100.1",
  "5.8 8.8 19.9 20.3 24.9 26.6 29.5 30.1 30.8 31.4 33.5 35.5 39.1 42.1 45.2 45.8 46.5 47.3 48.2 48.6 53.2 53.6 54.2 70.4 72.9 74.8 79.5 84.7 86.8 88.6 89.9 91.7 93.2 96.4 98.6",
  "11.2 12.9 19.4 21 22.7 30.1 32.1 36.3 37.9 38.4 46 46.5 48.8 52.3 54.2 56.2 61.6 64.2 64.9 66.5 71.5 74.8 77.9 80.6 85.2 86.5 87.9 90 96.7 97.3 100.4",
  "11.6 24.9 29.2 35.6 37.9 40 46.7 47.1 56.4 57.3 58.1 66.5 69.2 70.9 77.9 79 82.9 85 97 99.6",
  "10.1 11.4 19.6 24.3 25.3 26.9 27.4 30.5 34.4 36.6 37.9 41.9 45.8 47.8 48.4 49.1 49.6 51.2 57.7 61.3 66 66.5 70.9 71.6 72.7 77.5 87.1 98.2 99.3",
  "15.7 19.1 28.8 30.6 32.1 43.2 44.3 45.8 47.5 49.5 54.8 63.6 71.8 72.3 82.4 83.5 86.8 88.7 92.1",
  "10.1 10.5 13.4 14 16.6 18.3 20.5 32.7 33.2 36.3 37.1 38.2 40.4 41.7 50.6 56.6 58.8 59.5 60.1 61.4 64.2 65.7 73.5 83.2 86.3 86.9 87.8 96.5 98.8",
  "7.1 15.1 18.3 20.3 24.9 31.8 32.6 33.2 42.3 47.5 52.7 53.4 54.8 55.6 66.5 67.8 75.1 81.9 97 99.3",
  "13.2 19.6 37.4 40.2 42.8 64.2 64.7 65.8 76.6 79.4 81.6 89.9 90.8 95.1 95.7",
  "7.4 14.4 14.9 18.8 28.7 35.8 43 50.1 50.8 72.9 76.1 79 79.5 82.6 83.1 85.3 86.5 91.9 94.9",
  "6.4 9.2 10.1 10.6 12.7 14.2 14.9 15.5 18.1 19.1 20.7 24.3 25.3 25.9 26.4 28.7 29.5 31.1 33.1 33.9 34.5 36.3 41.3 42.8 43.6 44.4 46.5 47.8 48.3 49.7 51.2 52.7 59.7 61.2 63.8 67.9 70.9 71.4 72.3 73 73.6 74.3 75.6 78.5 79.2 79.8 82.7 84.2 88.1 88.7 90.4 91.3 91.8 93.2 97.1 98.6",
];
const BL_FIRST_HIGH = [[31.9, 64], [39.6, 64], [49.4, 64], [55, 64], [61.2, 64], [68.9, 64], [78.6, 64], [90.3, 64], [98.3, 64]];
const BL_RETRY_HIGH = [[10.4, 49], [20.1, 54], [69.8, 35], [87.6, 52]];
const BL_BAND = [[4.5, 100.9]];

const BR_FIRST = [
  "0.4 1 3.4 5.3 6.9 7.4 8.1 9 9.7 10.3 11 11.4 12.1 13.9 14.7 15.3 16 16.6 17.3 18.4 19.1 19.7 20.5 21.2 21.7 26.1 26.8 27.4 28.1 28.7 29.6 30.3 31.6 32.9 33.7 34.8 38.4 38.9 39.4 39.7 40.2 40.6 41.3 42.8 44.4 49.5 50.1 50.8 51.2 51.6 52.1 52.5 53 53.5 54.2 54.8 56.6 57.3 60 60.5 62.5 64.2 64.9 65.5 66.5 67.3 68.1 68.8 69.7 70.4 71.2 71.7 74.8 75.9 76.8 77.7 79.4 80 81.1 83.1 85.2 86.6 87.1 87.6 88.1 88.7 89.2 89.9 90.6 91.3 91.9 92.6 93.2 95.6 96.4 98.2 98.8 99.9 100.2 100.6",
  "0.3 0.8 1.2 1.7 2.1 4.2 4.7 5.1 5.6 6.1 6.6 7.1 7.5 16.6 17.5 20.7 21 23.8 25.3 28.7 30.6 32.7 39.5 40.6 41.3 42.1 42.8 46.9 53.2 54.9 59.9 63.9 65.7 67.5 74.4 75.1 78.3 79.8 80.3 85.6 90.8 95.4 98.2",
  "0.4 1.9 2.5 4.9 7.3 7.5 14.2 19 20.5 24.6 27.2 30.1 33.1 35.2 40.2 49.1 49.9 53.6 60.3 61 62.6 65.1 66 66.6 79 79.5 87.8 88.4 99.1",
  "0.3 1 1.7 2.1 5.1 5.6 12.5 14.7 20.5 24.2 25.7 31.1 31.9 42.8 49 49.9 52.7 54.2 54.9 59.2 60.8 62.5 65.2 66 67.1 71.8 79 79.4 82.7 87.8 88.2 90.4 93.6 94.5 95.6 97 98.8",
  "0.3 2.3 4.7 10.3 11.2 12.9 16.4 19 22.5 26.2 26.8 28.1 31.4 38.4 39.4 41.5 43.2 49 51 56.9 60.8 65.7 69.9 70.7 82.6 83.7 93.4 94.1 94.7 100.4",
  "0.4 4.3 5.1 5.6 6.1 6.6 7.1 7.5 9 11.2 13.1 15.1 20.5 21.7 24.2 25.1 26.2 30.1 37.1 38.7 40.2 41.8 50.6 52.7 56.2 57.4 74.8 76.8 81.3 81.6 87.3 87.8 90.2 91.9",
  "0.3 2.5 2.9 3.2 3.5 3.8 4.2 6.4 10.3 10.8 14 19.6 25.5 26.6 27.4 28.5 30.1 38.9 40.6 45.6 48.6 51 51.6 54.7 57.9 62.7 68.6 70.3 80.8 88.9 91.9 94.1 94.7",
  "0.3 1.7 3.4 3.8 5.1 5.6 6.1 6.6 7.1 7.5 8.4 12.7 13.4 14.5 19.4 20.7 22 22.5 26.2 29 33.2 44.7 46.9 50.3 50.9 51.6 56.6 60.6 62.6 67.7 68.1 70.3 73.1 79.8 81.8 82.4 84.2 84.7 87.8 90.6 91.9 93.1 94.5 96.9 99.5",
  "0.4 2.1 2.5 3 3.5 36.9 60.6 65.8 81.3",
  "0.4 5.1 5.8 8.7 9.2 10.3 13.1 22.2 27 27.9 30.8 34 37.6 37.9 40.2 42.8 49.5 53.6 56.2 58.4 64.5 67.8 69.4 70.3 70.9 74.8 76.6 79 82.1 83.9 86.5 88.1 89.4 94.7 99.9",
  "0.4 4.3 4.9 5.6 7.3 19.1 29.2 35.6 36.1 39.9 41.5 45.2 47.5 51.4 52.9 55.6 70.9 74 79.8 83.5 87.8 90 90.6 93.9 97.3 98.2 99",
  "0.4 0.8 1.1 1.6 2.1 3 3.6 5.3 6.8 8.1 12.3 15.2 15.8 18.6 20.3 22.3 26.2 29.2 29.6 41.7 43.9 46.5 53.8 54.5 55.5 56.6 57.3 57.9 58.7 59.5 64.2 68.1 70.7 72.7 80.5 82.2 83.9 85.6 87.4 89.5 92.8 94.5 95.8",
  "1.9 2.1 2.3 2.5 2.7 3.8 5.1 6.9 8.2 9.7 11 12.9 13.4 15.5 17 25.7 27.7 43 44.7 46.7 48.4 54.3 54.9 55.6 56.2 57.9 59.7 60.6 61.6 67.1 68.1 73.3 74 74.3 76.1 80.5 81.3 89.7 96.7 98.8",
  "0.4 1.4 2.3 3.8 4.2 4.5 4.9 6.1 7.5 8.2 8.8 9.7 10.3 11 11.6 12.3 13.1 15.7 16.4 17.3 17.9 18.8 19.9 20.9 21.8 26.4 27 27.7 28.2 28.8 29.4 33.2 33.9 34.5 35.2 35.6 38.2 39.2 39.9 40.5 41.2 41.8 42.5 43.1 43.8 44.4 45.1 45.7 46.5 52.3 52.9 53.5 54.2 54.7 56.2 57.1 60.1 61 61.8 64.2 64.9 65.5 66.2 67 67.9 69.7 70.4 71 71.8 72.7 73.3 74.2 75.1 75.7 79 79.6 80.5 81.1 82.4 83.2 83.9 84.7 85.3 86 86.6 87.3 87.9 88.6 89.2 89.9 90.8 91.8 94.7 98 99.3 99.6 99.9 100.2 100.6",
  "0.1 3.2 10.1 12.9 22.5 23.1 24.3 24.8 31.3 32.9 39.4 42.5 45.6 47.5 49.9 50.6 51.6 52.1 53.4 56.8 57.5 58.4 72.9 74.2 75.1 76.4 77.5 83.4 90 92.6 94.9 98.4",
  "0.3 0.8 1.3 1.8 2.3 2.8 3.3 3.8 4.3 4.8 5.3 5.8 6.3 6.8 7.3 7.9 9.5 11.8 12.7 14.4 16.2 17.5 19.1 24.2 26.1 27.5 29.6 32.4 32.9 43.2 47.3 47.8 50.4 54.5 56.2 60.1 63.6 65.8 66.5 67.3 74.2 75.5 79 79.4 80.1 81.9 82.9 83.9 87.6 88.6 91.3 93.1 97.8 100.1",
  "15.8 17.7 23.1 26.1 26.6 43.8 49.5 74.9 93.1 100.4",
  "0.6 6.1 7.7 8.2 15.7 17.7 19.6 25.3 29.2 31.6 33.1 35.6 37.4 39.5 46.4 48.8 54 55.8 57.5 59.5 61.8 62.3 68.4 71 93.9 97.3 99.3",
  "2.1 42.5 58.8 64.7 69.4 69.9 72.9 76.6 77 78.7 83.2 84.2 89.4 90.6 91.9",
  "6.1 11.6 13.8 27.7 30.9 35.2 41 49 67.5 71 71.6 86.8 88.9 93.1",
  "26.6 48 48.4 51.7 60.8 68.1 76.2 85.8 88.1 96.2",
  "5.3 11.4 12.9 21.8 30.5 34.5 40.8 41.7 42.3 43.2 44.4 50.1 51 54.8 60.5 62.9 63.4 67.3 74.3 84.5 95.1 95.8 98.2",
  "1.7 13.6 17.3 18.8 27.5 33.4 42.8 65.1 70.7 77.9 80.3 80.8",
  "1.7 25.7 29.8 39.1 40.8 87.1",
  "24.2 52.9 64 69.6 86.5",
  "0.8 20.3 29.8 35 36.6 42.1 46.2 51 66.8 74.6 86.8 88.4 89.5 91.7 100.4",
  "26.9 31.9 38.9 39.4 42.6 47.8 63.9 71.8 80 83.7 89.2 89.7 98.8",
  "4 8.6 15.5 22.5 50.9 57.9 65.5 67.3 73.3 83.1 95.2 100.4",
  "3.2 12.1 38.2 45.2 48.6 49.5 66.4 72.3 77.7 80.9 81.5 93.6 96.7",
  "3.4 18.3 22.5 24 47.1 48.6 50.9 51.4 67.5 75.9 77.7 84.2 84.7 91.3 94.1 95.7 97.3",
  "32.6 49 55.1 79 85.8 94.1",
  "2.1 2.5 3 3.5 4 4.5 5 5.5 6 6.6 7.3 100.8",
];
const BR_RETRY = [
  "0.8 12.7 13.2 22.7 23.1 23.8 24.4 25.1 41.9 45.8 46.5 47.1 47.8 48.4 56 59.2 66 72.9 78.2 79 80.5 82.1 83.9 97.1 99.5",
  "15.5 17.1 17.9 19 21 22.5 26.8 28.3 31.4 34.2 34.8 35.6 42.8 49 49.9 50.6 54.3 54.9 61.6 62.7 64.4 72.2 72.9 73.5 76.1 80.3 83.9 86.8 89.1 91.2 94.3 96.2 97 99.3 100.4",
  "5.1 9.7 10.3 11.2 12.9 14.7 19 23.8 27.2 28.1 29.2 31.3 33.7 36.9 37.6 41.7 43 43.2 47.5 47.8 48.4 48.8 53.4 56.6 57.3 62.6 65.3 67.8 69 69.9 73.1 73.8 74.4 83.9 94.4 99.7",
  "5.1 9.7 10.5 11.2 13.8 15.3 16.4 17 17.9 19.1 22.3 23.1 26.6 27.7 28.7 29.6 30.9 35 35.6 36.5 37.3 40.2 43 44.4 46.9 47.5 48.3 49.1 50.4 57.1 57.9 62.5 67.9 69.6 70.9 73.8 75.7 78.3 79.4 81.6 83.7 84.7 85.3 89.1",
  "0.9 3.2 4.5 9.7 11.2 14 18.1 19 21.7 22.2 23.1 24 24.6 27.4 29.2 29.6 30.6 35.8 36.3 37.1 37.9 40 47.1 54 59.2 61.2 62.3 65.7 69.2 72.9 74.8 75.7 77.4 78.5 80 82.7 83.7 86.8 87.8 88.7 89.4 90.2 90.8 91.5 95.7 96.5 98.2",
  "7.3 18.3 22.2 22.9 23.3 28.5 31.8 35.2 41.8 45.1 46.7 47.7 48.4 54.3 54.9 55.6 58.4 59.2 60.1 67.7 68.6 69.6 71.8 83.9 88.1 91.5 95.2 96.7 98.6",
  "12.6 13.2 15.7 16.4 17.3 18.1 18.8 22.2 23.8 25.9 31.9 45.6 55.8 56.2 60.8 62.7 66.5 71.8 75.7 78.3 80.8 91.3 94.4 97 99.6",
  "4.7 11.4 12.1 14 16.8 18.4 22.5 24 29.6 33.1 37.4 38.9 42.3 47.1 51.2 53.6 55.1 56.2 58.6 64 67.3 69.7 71.8 75.1 75.7 80 83.1 85.2 92.8 95.6 97.3",
  "3.5 8.7 9.7 10.5 11.2 11.8 12.6 13.4 15.7 19.6 22.9 25.7 27.4 30.5 31.6 32.7 33.9 35 40.6 42.3 43.9 45.6 47.5 49.5 51.4 53.2 54.9 57.9 60.8 62.5 64.2 66.4 69 70.9 76.6 81.1 84.2 85.2 86.5 91.5 92.8 93.6 97.5 99.5",
  "12.9 14 14.7 15.3 16.2 16.8 18.1 22.2 24.6 25.1 31.9 33.1 35 37.3 45.6 47.1 49 59.5 61 64.5 66.6 71.4 72.9 78.7 80.3 86.3 91.7 92.3 93.1 95.4 98.2",
  "9.7 11.3 11.8 12.9 13.4 14.4 17.7 19.4 21.6 23.6 25.7 29.4 35.2 37.8 40.2 42.8 46.2 47.8 48.4 49.7 50.9 51.4 61.8 64.2 66 69 72.9 73.5 75.3 76.4 81.6 85.2 92.3 95.6 98.6",
  "5.1 9.7 10.1 12.1 18.1 19.9 22 23.1 29.4 40.6 41.5 43.2 48 48.8 49.5 49.9 50.9 55.3 69.7 72.3 72.7 74.9 77.5 83.2 88.2 97.8 99.3",
  "9.2 13.8 18.6 21.2 23.5 24.2 24.8 29.4 30.9 32.9 35.2 35.6 37.6 39.5 45.1 49.7 51 53.6 56.9 62.1 68.8 74.3 82.6 84.2 90 92.3 93 94.5 96.5",
  "15.1 15.7 23.5 24.6 30.1 36.5 47.1 48.8 49.7 50.3 50.9 51.6 55.1 78.2 95.1",
  "8.4 9.9 14.2 15.1 16.6 18.3 19.9 20.5 24.8 27.4 28.2 29.6 31.3 33.7 36.1 39.4 45.6 50.4 55.1 60.5 61.6 62.3 63.4 64.5 65.7 67.1 67.7 69.4 75.1 82.9 84.7 87.1 88.4 91 96.9 98.4 99",
  "0.4 5.6 7.7 13.1 13.6 19.7 23.8 36.9 40.6 44.5 45.8 48.3 52.9 53.4 70.1 73.6 84.4 89.5 90.5 95.6",
  "9.7 10.3 11 12.6 20.5 21.2 23.8 28.2 31.3 33.2 36.1 37.8 45.1 48.2 48.8 51.2 53.4 57.4 58.7 60.3 62.5 63.1 65.2 66 67.1 69 70.7 71.6 74.6 78.3 80.1 80.8 81.6 82.6 85.2 87.9 88.7 100.1",
  "8.6 9.9 12.9 13.4 14 14.7 22.2 23.8 24.4 25.6 26.4 27.5 30.6 48.4 53.4 64.9 65.3 67.1 68.6 78.5 79 85 92.3 95.2",
  "13.8 14.4 15.2 19.7 21.4 22 25.5 28.2 31.3 31.8 35 45.8 49.9 50.6 55.1 56 58.8 62.6 66.8 69.6 78.5 79.6 86.9 87.6 88.9 95.6 97",
  "9.5 11.3 15.3 22.3 23.1 25.7 31.1 32.6 33.7 44.1 44.7 46.4 48 50.6 56 56.4 56.9 60.6 67.3 71.6 72.2 72.9 73.8 76.1 77.9 80.1 82.9 83.5 85 98.2 98.8 99.5",
  "9.9 13.2 14.9 17 17.7 19.9 22.9 24.9 26.1 28.1 37.1 37.6 41.7 47.5 51.7 54 58.6 74.2 78.3 79.8 81.3 84.8 85.3 87.8 91 91.7 94.9 95.6 99.3",
  "10.3 12.5 13.6 17.3 23.3 24 27.7 32.2 39.1 52.7 55.8 56.6 60.3 63.8 71.2 72.7 74.6 75.3 82.2 83.9 84.5 85.6 90 97.3 98.2 98.8",
  "9.2 12.6 15.7 23.5 23.8 25.5 28.5 28.8 30.3 31.3 33.4 45.8 47.8 50.6 51.2 53.8 54.7 55.3 56.6 61.8 70.9 74.8 83.1 83.9 85.8 91.5 93.1",
  "13.2 17.7 20.3 20.9 22 28.5 32.2 34.5 42.6 43.4 44.3 45.2 46.5 47.3 64.7 65.7 74.6 78.2 78.7 80 82.2 84.2 84.8 86.1 91 93.4 95.7 97.5 98.2 99 100.1",
  "9.9 16.2 22.3 25.7 28.1 31.3 36.5 41 41.9 49.1 49.7 52.1 56.2 56.9 65.7 66.6 67.5 69.2 74 83.2 85.3 86.5 95.2",
  "19.9 25.5 27 27.7 30.1 31.3 31.9 40 46 47.8 48.2 50.6 52.5 56.6 59.7 65.2 66.8 80.1 89.2 98.6",
  "10.5 18.6 23.1 23.8 24.4 25.1 28.5 31.8 46.9 49.7 50.1 50.6 54.3 54.9 55.5 56.6 61.6 78.1 81.9 86.9 90.4 92.5",
  "12.3 19.6 20.7 28.3 36 44.3 49.7 53 53.6 56.6 60.8 62.1 64.7 69 73.1 79 80.1 83.7 84.8 85.3 86.6 98.8",
  "7.9 25.5 27 33.7 37.9 42.1 47.1 56.2 63.1 67.8 69 76.1 78.3 85.5 87.6 93.4",
  "10.5 11.6 14.4 17.7 23.3 31.3 35.2 43.6 58.7 69.7 71.2 79 80.9 84.7 89.2",
  "8.6 13.4 20.9 22.9 24.4 25.1 25.7 32.6 37.9 39.9 50.3 52.1 66.5 69.7 71.2 78.2 82.1 94.3 97",
  "9.2 10.3 10.8 11.2 13.8 14.4 16.8 17.9 19 21 21.8 29.4 30 31.1 33.2 35.2 39.4 39.9 40.4 42.3 43 43.8 44.4 45.1 45.8 46.4 48.8 52.1 54 55.3 56 58.2 61 63.4 63.9 64.7 65.7 67.1 68.6 70.3 71.4 74.2 75.1 76.8 77.7 79.4 80.6 81.6 82.2 84.5 86.1 87.8 89.5 90.4 91.3 91.9 93.1 94.5 96.7",
];
const BR_FIRST_HIGH = [[37.4, 64], [50.1, 64], [61.1, 64], [61.9, 64], [90.1, 64]];
const BR_RETRY_HIGH = [[29.8, 41]];
const BR_BAND = [[7.4, 100.9]];

const PANELS = [
  { first: TL_FIRST, retry: TL_RETRY, firstHigh: TL_FIRST_HIGH, retryHigh: TL_RETRY_HIGH, band: TL_BAND },
  { first: TR_FIRST, retry: TR_RETRY, firstHigh: TR_FIRST_HIGH, retryHigh: TR_RETRY_HIGH, band: TR_BAND },
  { first: BL_FIRST, retry: BL_RETRY, firstHigh: BL_FIRST_HIGH, retryHigh: BL_RETRY_HIGH, band: BL_BAND },
  { first: BR_FIRST, retry: BR_RETRY, firstHigh: BR_FIRST_HIGH, retryHigh: BR_RETRY_HIGH, band: BR_BAND },
];

// ---- layout (pixels)
const GRID_LEFT = [126, 2175];
const GRID_TOP = [161, 2208];
const GRID_W = 1586;
const GRID_H = 1261;
const FS = 18.7;
const TITLE_FS = 22.6;

const PLUS_PATH =
  "path://M-1,-0.21L-0.21,-0.21L-0.21,-1L0.21,-1L0.21,-0.21L1,-0.21L1,0.21L0.21,0.21L0.21,1L-0.21,1L-0.21,0.21L-1,0.21Z";

function toPoints(rows: string[], x0: number, step: number): number[][] {
  const pts: number[][] = [];
  rows.forEach((r, i) => {
    if (!r) return;
    r.split(" ").forEach((s) => {
      pts.push([x0 + parseFloat(s) * step, i + 1]);
    });
  });
  return pts;
}

function txt(x: number, y: number, text: string, size: number, align: string, extra: any = {}) {
  return {
    type: "text",
    x,
    y,
    z: 100,
    silent: true,
    style: {
      text,
      fill: "#000",
      fontSize: size,
      fontFamily: FONT,
      align,
      textAlign: align,
      verticalAlign: "middle",
      textVerticalAlign: "middle",
      ...extra,
    },
  };
}

function buildOption() {
  const grid: any[] = [];
  const xAxis: any[] = [];
  const yAxis: any[] = [];
  const series: any[] = [];
  const graphic: any[] = [];

  graphic.push({
    type: "rect",
    z: -100,
    silent: true,
    shape: { x: 3, y: 3, width: 3848, height: 3590, r: 58 },
    style: {
      fill: "#ffffff",
      shadowBlur: 14,
      shadowColor: "rgba(0,0,0,0.55)",
      shadowOffsetX: 6,
      shadowOffsetY: 7,
    },
  });

  PANELS.forEach((p, i) => {
    const left = GRID_LEFT[i % 2];
    const top = GRID_TOP[Math.floor(i / 2)];
    const right = left + GRID_W;
    const bottom = top + GRID_H;
    const x0 = X_START[i];
    const step = STEP[i];

    grid.push({
      left,
      top,
      width: GRID_W,
      height: GRID_H,
      show: true,
      borderColor: "#000",
      borderWidth: 1.5,
      backgroundColor: "transparent",
    });

    xAxis.push({
      type: "value",
      gridIndex: i,
      min: X_START[i],
      max: X_END[i],
      splitLine: { show: false },
      axisLine: { show: true, onZero: false, lineStyle: { color: "#000", width: 1.5 } },
      axisTick: { show: true, customValues: X_TICKS[i], length: 6.5, lineStyle: { color: "#000", width: 1.5 } },
      axisLabel: {
        customValues: X_TICKS[i],
        formatter: (v: number) => (v / 1000).toFixed(3),
        margin: 10,
        fontSize: FS,
        color: "#000",
        fontFamily: FONT,
      },
      name: "TSF timestamp (microseconds)",
      nameLocation: "middle",
      nameGap: 39,
      nameMoveOverlap: false,
      nameTextStyle: { fontSize: FS, color: "#000", fontFamily: FONT },
    });

    yAxis.push({
      type: "value",
      gridIndex: i,
      min: -1,
      max: 75,
      splitLine: { show: false },
      axisLine: { show: true, onZero: false, lineStyle: { color: "#000", width: 1.5 } },
      axisTick: { show: true, customValues: Y_TICKS, length: 6.5, lineStyle: { color: "#000", width: 1.5 } },
      axisLabel: {
        customValues: Y_TICKS,
        margin: 13,
        fontSize: FS,
        color: "#000",
        fontFamily: FONT,
      },
      name: "A-MPDU subframe count",
      nameLocation: "middle",
      nameGap: 44,
      nameMoveOverlap: false,
      nameTextStyle: { fontSize: FS, color: "#000", fontFamily: FONT },
    });

    // dense run of first attempts at 32 subframes (drawn as a continuous band)
    p.band.forEach((seg) => {
      series.push({
        type: "line",
        xAxisIndex: i,
        yAxisIndex: i,
        silent: true,
        symbol: "none",
        animation: false,
        data: [
          [x0 + seg[0] * step, 32],
          [x0 + seg[1] * step, 32],
        ],
        lineStyle: { color: "#000", width: 13.5, cap: "round" },
        z: 2,
      });
    });

    const firstPts = toPoints(p.first, x0, step).concat(
      p.firstHigh.map((d) => [x0 + d[0] * step, d[1]])
    );
    const retryPts = toPoints(p.retry, x0, step).concat(
      p.retryHigh.map((d) => [x0 + d[0] * step, d[1]])
    );

    series.push({
      name: "A-MPDU first attempts",
      type: "scatter",
      xAxisIndex: i,
      yAxisIndex: i,
      silent: true,
      progressive: 0,
      animation: false,
      symbol: "circle",
      symbolSize: 11.8,
      itemStyle: { color: "#ffff00", borderColor: "#000", borderWidth: 1.7, opacity: 1 },
      data: firstPts,
      z: 3,
    });
    series.push({
      name: "A-MPDU retries",
      type: "scatter",
      xAxisIndex: i,
      yAxisIndex: i,
      silent: true,
      progressive: 0,
      animation: false,
      symbol: PLUS_PATH,
      symbolSize: 13,
      itemStyle: { color: "#ff0000", opacity: 1 },
      data: retryPts,
      z: 4,
    });

    // titles
    const cx = left + GRID_W / 2;
    graphic.push(txt(cx, top - 44, "A-MPDU size distribution across entire capture", TITLE_FS, "center"));
    graphic.push(txt(cx, top - 18, "(" + FILES[i] + ")", TITLE_FS, "center"));
    // offset text
    graphic.push(txt(right, bottom + 46, "1e9", FS, "right"));

    // legend
    graphic.push({
      type: "rect",
      z: 90,
      silent: true,
      shape: { x: right - 289, y: top + 9, width: 280, height: 91, r: 4 },
      style: { fill: "rgba(255,255,255,0.8)", stroke: "#cccccc", lineWidth: 1.5 },
    });
    const mx = right - 262;
    graphic.push({
      type: "line",
      z: 95,
      silent: true,
      shape: { x1: mx, y1: top + 20, x2: mx, y2: top + 32 },
      style: { stroke: "#d9d9d9", lineWidth: 2 },
    });
    graphic.push({
      type: "circle",
      z: 95,
      silent: true,
      shape: { cx: mx, cy: top + 55, r: 6 },
      style: { fill: "#ffff00", stroke: "#000", lineWidth: 1.7 },
    });
    graphic.push({
      type: "rect",
      z: 95,
      silent: true,
      shape: { x: mx - 6.5, y: top + 83 - 1.35, width: 13, height: 2.7 },
      style: { fill: "#ff0000" },
    });
    graphic.push({
      type: "rect",
      z: 95,
      silent: true,
      shape: { x: mx - 1.35, y: top + 83 - 6.5, width: 2.7, height: 13 },
      style: { fill: "#ff0000" },
    });
    graphic.push(txt(right - 228, top + 25, "BACK implicit", FS, "left"));
    graphic.push(txt(right - 228, top + 54, "A-MPDU first attempts", FS, "left"));
    graphic.push(txt(right - 228, top + 82, "A-MPDU retries", FS, "left"));
  });

  return {
    animation: false,
    backgroundColor: "#ffffff",
    textStyle: { fontFamily: FONT },
    grid,
    xAxis,
    yAxis,
    series,
    graphic,
  };
}

export default function App() {
  const ref = useRef<HTMLDivElement | null>(null);
  useEffect(() => {
    document.body.style.margin = "0";
    if (!ref.current) return;
    const chart = echarts.init(ref.current, undefined, { renderer: "svg", width: W, height: H });
    chart.setOption(buildOption() as any);
    return () => {
      chart.dispose();
    };
  }, []);
  return <div ref={ref} style={{ width: W, height: H }} />;
}
